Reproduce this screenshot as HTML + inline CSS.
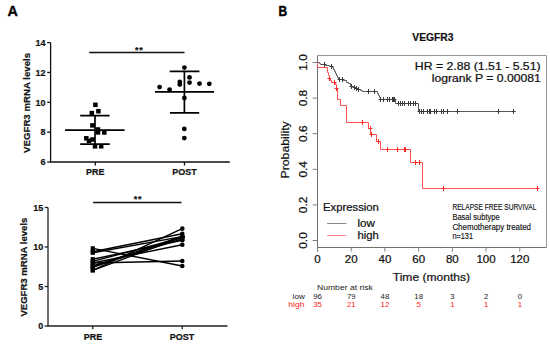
<!DOCTYPE html>
<html><head><meta charset="utf-8"><style>
html,body{margin:0;padding:0;background:#fff;width:550px;height:344px;overflow:hidden;}
</style></head><body>
<svg width="550" height="344" viewBox="0 0 550 344" style="display:block">
<rect width="550" height="344" fill="#fff"/>
<text transform="translate(7.6 15.9) scale(0.93 1)" font-family="Liberation Sans, sans-serif" font-weight="bold" font-size="15.5" fill="#000" stroke="#000" stroke-width="0.3">A</text>
<text transform="translate(278.6 16.3) scale(0.77 1)" font-family="Liberation Sans, sans-serif" font-weight="bold" font-size="15.5" fill="#000" stroke="#000" stroke-width="0.5">B</text>
<g stroke="#111" stroke-width="1.3" fill="none">
<path d="M50.6 42.6 V162.6 M50 162 H229.8"/>
<path d="M47.2 42.60 H50.6"/>
<path d="M47.2 72.45 H50.6"/>
<path d="M47.2 102.30 H50.6"/>
<path d="M47.2 132.15 H50.6"/>
<path d="M47.2 162.00 H50.6"/>
<path d="M95.3 162 V165.6 M184.5 162 V165.6"/>
</g>
<text x="45.4" y="45.80" font-family="Liberation Sans, sans-serif" font-weight="bold" font-size="9" text-anchor="end" fill="#111" stroke="#111" stroke-width="0.2">14</text>
<text x="45.4" y="75.65" font-family="Liberation Sans, sans-serif" font-weight="bold" font-size="9" text-anchor="end" fill="#111" stroke="#111" stroke-width="0.2">12</text>
<text x="45.4" y="105.50" font-family="Liberation Sans, sans-serif" font-weight="bold" font-size="9" text-anchor="end" fill="#111" stroke="#111" stroke-width="0.2">10</text>
<text x="45.4" y="135.35" font-family="Liberation Sans, sans-serif" font-weight="bold" font-size="9" text-anchor="end" fill="#111" stroke="#111" stroke-width="0.2">8</text>
<text x="45.4" y="165.20" font-family="Liberation Sans, sans-serif" font-weight="bold" font-size="9" text-anchor="end" fill="#111" stroke="#111" stroke-width="0.2">6</text>
<text x="95.3" y="175.4" font-family="Liberation Sans, sans-serif" font-weight="bold" font-size="9" text-anchor="middle" fill="#111" stroke="#111" stroke-width="0.2">PRE</text>
<text x="184.4" y="175.4" font-family="Liberation Sans, sans-serif" font-weight="bold" font-size="9" text-anchor="middle" fill="#111" stroke="#111" stroke-width="0.2">POST</text>
<text transform="translate(30.3 102.9) rotate(-90)" font-family="Liberation Sans, sans-serif" font-weight="bold" font-size="9.7" text-anchor="middle" textLength="100" lengthAdjust="spacingAndGlyphs" fill="#111" stroke="#111" stroke-width="0.2">VEGFR3 mRNA levels</text>
<path d="M89.2 52.5 H184.5" stroke="#111" stroke-width="1.6"/>
<text x="139.2" y="53.0" font-family="Liberation Sans, sans-serif" font-weight="bold" font-size="9" text-anchor="middle" letter-spacing="0.6" fill="#111" stroke="#111" stroke-width="0.2">**</text>
<g stroke="#000" stroke-width="1.7" fill="none">
<path d="M65 130.2 H124.6 M80.2 115.6 H109.6 M80.2 144.2 H109.8 M95 115.6 V144.2"/>
<path d="M155 91.8 H214.1 M169.7 71.4 H199.4 M169.9 112.8 H199.2 M184.4 71.4 V112.8"/>
</g>
<rect x="93.15" y="102.55" width="4.5" height="4.5" fill="#000"/>
<rect x="96.15" y="108.95" width="4.5" height="4.5" fill="#000"/>
<rect x="89.55" y="110.85" width="4.5" height="4.5" fill="#000"/>
<rect x="90.15" y="123.15" width="4.5" height="4.5" fill="#000"/>
<rect x="95.75" y="127.25" width="4.5" height="4.5" fill="#000"/>
<rect x="95.75" y="130.15" width="4.5" height="4.5" fill="#000"/>
<rect x="102.05" y="130.25" width="4.5" height="4.5" fill="#000"/>
<rect x="84.05" y="136.05" width="4.5" height="4.5" fill="#000"/>
<rect x="90.25" y="137.25" width="4.5" height="4.5" fill="#000"/>
<rect x="86.75" y="138.55" width="4.5" height="4.5" fill="#000"/>
<rect x="92.75" y="144.05" width="4.5" height="4.5" fill="#000"/>
<rect x="98.95" y="144.05" width="4.5" height="4.5" fill="#000"/>
<circle cx="184.4" cy="67.6" r="2.4" fill="#000"/>
<circle cx="189.5" cy="77.4" r="2.4" fill="#000"/>
<circle cx="189.5" cy="82.6" r="2.4" fill="#000"/>
<circle cx="179.8" cy="82" r="2.4" fill="#000"/>
<circle cx="179.8" cy="84.6" r="2.4" fill="#000"/>
<circle cx="199.5" cy="83.6" r="2.4" fill="#000"/>
<circle cx="209.3" cy="83.8" r="2.4" fill="#000"/>
<circle cx="159.6" cy="87.1" r="2.4" fill="#000"/>
<circle cx="169.6" cy="89.6" r="2.4" fill="#000"/>
<circle cx="184.4" cy="98" r="2.4" fill="#000"/>
<circle cx="184.3" cy="128.9" r="2.4" fill="#000"/>
<circle cx="184.3" cy="138.1" r="2.4" fill="#000"/>
<g stroke="#222" stroke-width="1.3" fill="none">
<path d="M48 207.5 V326.6 M47.4 326 H227.5"/>
<path d="M44.7 207.50 H48"/>
<path d="M44.7 247.00 H48"/>
<path d="M44.7 286.50 H48"/>
<path d="M44.7 326.00 H48"/>
<path d="M92.8 326 V329.2 M182.2 326 V329.2"/>
</g>
<text x="43.3" y="210.70" font-family="Liberation Sans, sans-serif" font-weight="bold" font-size="9" text-anchor="end" fill="#111" stroke="#111" stroke-width="0.2">15</text>
<text x="43.3" y="250.20" font-family="Liberation Sans, sans-serif" font-weight="bold" font-size="9" text-anchor="end" fill="#111" stroke="#111" stroke-width="0.2">10</text>
<text x="43.3" y="289.70" font-family="Liberation Sans, sans-serif" font-weight="bold" font-size="9" text-anchor="end" fill="#111" stroke="#111" stroke-width="0.2">5</text>
<text x="43.3" y="329.20" font-family="Liberation Sans, sans-serif" font-weight="bold" font-size="9" text-anchor="end" fill="#111" stroke="#111" stroke-width="0.2">0</text>
<text x="92.9" y="339.5" font-family="Liberation Sans, sans-serif" font-weight="bold" font-size="9" text-anchor="middle" fill="#111" stroke="#111" stroke-width="0.2">PRE</text>
<text x="181.9" y="339.5" font-family="Liberation Sans, sans-serif" font-weight="bold" font-size="9" text-anchor="middle" fill="#111" stroke="#111" stroke-width="0.2">POST</text>
<text transform="translate(27.3 267.1) rotate(-90)" font-family="Liberation Sans, sans-serif" font-weight="bold" font-size="9.6" text-anchor="middle" textLength="99" lengthAdjust="spacingAndGlyphs" fill="#111" stroke="#111" stroke-width="0.2">VEGFR3 mRNA levels</text>
<path d="M93.1 202.4 H181.5" stroke="#111" stroke-width="1.5"/>
<text x="137.9" y="201.9" font-family="Liberation Sans, sans-serif" font-weight="bold" font-size="9" text-anchor="middle" letter-spacing="0.6" fill="#111" stroke="#111" stroke-width="0.2">**</text>
<g stroke="#000" stroke-width="1.4" fill="none">
<path d="M92.8 248.34 L182.2 265.96"/>
<path d="M92.8 251.74 L182.2 233.81"/>
<path d="M92.8 252.69 L182.2 236.57"/>
<path d="M92.8 259.25 L182.2 240.28"/>
<path d="M92.8 261.38 L182.2 237.60"/>
<path d="M92.8 262.96 L182.2 261.06"/>
<path d="M92.8 262.96 L182.2 244.71"/>
<path d="M92.8 266.04 L182.2 237.20"/>
<path d="M92.8 266.67 L182.2 238.94"/>
<path d="M92.8 267.22 L182.2 236.26"/>
<path d="M92.8 270.31 L182.2 228.67"/>
<path d="M92.8 270.31 L182.2 237.12"/>
</g>
<rect x="90.7" y="246.24" width="4.2" height="4.2" fill="#000"/>
<rect x="90.7" y="249.64" width="4.2" height="4.2" fill="#000"/>
<rect x="90.7" y="250.59" width="4.2" height="4.2" fill="#000"/>
<rect x="90.7" y="257.14" width="4.2" height="4.2" fill="#000"/>
<rect x="90.7" y="259.28" width="4.2" height="4.2" fill="#000"/>
<rect x="90.7" y="260.86" width="4.2" height="4.2" fill="#000"/>
<rect x="90.7" y="260.86" width="4.2" height="4.2" fill="#000"/>
<rect x="90.7" y="263.94" width="4.2" height="4.2" fill="#000"/>
<rect x="90.7" y="264.57" width="4.2" height="4.2" fill="#000"/>
<rect x="90.7" y="265.12" width="4.2" height="4.2" fill="#000"/>
<rect x="90.7" y="268.20" width="4.2" height="4.2" fill="#000"/>
<rect x="90.7" y="268.20" width="4.2" height="4.2" fill="#000"/>
<circle cx="182.3" cy="228.67" r="2.3" fill="#000"/>
<circle cx="182.3" cy="233.81" r="2.3" fill="#000"/>
<circle cx="182.3" cy="236.57" r="2.3" fill="#000"/>
<circle cx="182.3" cy="236.26" r="2.3" fill="#000"/>
<circle cx="182.3" cy="237.60" r="2.3" fill="#000"/>
<circle cx="182.3" cy="237.12" r="2.3" fill="#000"/>
<circle cx="182.3" cy="237.20" r="2.3" fill="#000"/>
<circle cx="182.3" cy="238.94" r="2.3" fill="#000"/>
<circle cx="182.3" cy="240.28" r="2.3" fill="#000"/>
<circle cx="182.3" cy="244.71" r="2.3" fill="#000"/>
<circle cx="182.3" cy="261.06" r="2.3" fill="#000"/>
<circle cx="182.3" cy="265.96" r="2.3" fill="#000"/>
<text x="432.9" y="40.7" font-family="Liberation Sans, sans-serif" font-weight="bold" font-size="10.6" text-anchor="middle" textLength="41.2" lengthAdjust="spacingAndGlyphs" fill="#111" stroke="#111" stroke-width="0.2">VEGFR3</text>
<path d="M317.5 55.5 H546.5 V247.5" fill="none" stroke="#999" stroke-width="1"/>
<path d="M317.5 55.5 V251.5 M317.5 247.5 H546.5" fill="none" stroke="#707070" stroke-width="1"/>
<g stroke="#808080" stroke-width="1" fill="none">
<path d="M312.6 240.50 H317.5"/>
<path d="M312.6 204.90 H317.5"/>
<path d="M312.6 169.30 H317.5"/>
<path d="M312.6 133.70 H317.5"/>
<path d="M312.6 98.10 H317.5"/>
<path d="M312.6 62.50 H317.5"/>
<path d="M317.50 247.5 V251.7"/>
<path d="M351.22 247.5 V251.7"/>
<path d="M384.93 247.5 V251.7"/>
<path d="M418.65 247.5 V251.7"/>
<path d="M452.36 247.5 V251.7"/>
<path d="M486.08 247.5 V251.7"/>
<path d="M519.80 247.5 V251.7"/>
</g>
<text transform="translate(306.5 240.50) rotate(-90)" font-family="Liberation Sans, sans-serif" font-size="10.2" text-anchor="middle" textLength="16.5" lengthAdjust="spacingAndGlyphs" fill="#111" stroke="#111" stroke-width="0.22">0.0</text>
<text transform="translate(306.5 204.90) rotate(-90)" font-family="Liberation Sans, sans-serif" font-size="10.2" text-anchor="middle" textLength="16.5" lengthAdjust="spacingAndGlyphs" fill="#111" stroke="#111" stroke-width="0.22">0.2</text>
<text transform="translate(306.5 169.30) rotate(-90)" font-family="Liberation Sans, sans-serif" font-size="10.2" text-anchor="middle" textLength="16.5" lengthAdjust="spacingAndGlyphs" fill="#111" stroke="#111" stroke-width="0.22">0.4</text>
<text transform="translate(306.5 133.70) rotate(-90)" font-family="Liberation Sans, sans-serif" font-size="10.2" text-anchor="middle" textLength="16.5" lengthAdjust="spacingAndGlyphs" fill="#111" stroke="#111" stroke-width="0.22">0.6</text>
<text transform="translate(306.5 98.10) rotate(-90)" font-family="Liberation Sans, sans-serif" font-size="10.2" text-anchor="middle" textLength="16.5" lengthAdjust="spacingAndGlyphs" fill="#111" stroke="#111" stroke-width="0.22">0.8</text>
<text transform="translate(306.5 62.50) rotate(-90)" font-family="Liberation Sans, sans-serif" font-size="10.2" text-anchor="middle" textLength="16.5" lengthAdjust="spacingAndGlyphs" fill="#111" stroke="#111" stroke-width="0.22">1.0</text>
<text x="317.50" y="263" font-family="Liberation Sans, sans-serif" font-size="10" text-anchor="middle" textLength="6.4" lengthAdjust="spacingAndGlyphs" fill="#111" stroke="#111" stroke-width="0.22">0</text>
<text x="351.22" y="263" font-family="Liberation Sans, sans-serif" font-size="10" text-anchor="middle" textLength="12.8" lengthAdjust="spacingAndGlyphs" fill="#111" stroke="#111" stroke-width="0.22">20</text>
<text x="384.93" y="263" font-family="Liberation Sans, sans-serif" font-size="10" text-anchor="middle" textLength="12.8" lengthAdjust="spacingAndGlyphs" fill="#111" stroke="#111" stroke-width="0.22">40</text>
<text x="418.65" y="263" font-family="Liberation Sans, sans-serif" font-size="10" text-anchor="middle" textLength="12.8" lengthAdjust="spacingAndGlyphs" fill="#111" stroke="#111" stroke-width="0.22">60</text>
<text x="452.36" y="263" font-family="Liberation Sans, sans-serif" font-size="10" text-anchor="middle" textLength="12.8" lengthAdjust="spacingAndGlyphs" fill="#111" stroke="#111" stroke-width="0.22">80</text>
<text x="486.08" y="263" font-family="Liberation Sans, sans-serif" font-size="10" text-anchor="middle" textLength="19.2" lengthAdjust="spacingAndGlyphs" fill="#111" stroke="#111" stroke-width="0.22">100</text>
<text x="519.80" y="263" font-family="Liberation Sans, sans-serif" font-size="10" text-anchor="middle" textLength="19.2" lengthAdjust="spacingAndGlyphs" fill="#111" stroke="#111" stroke-width="0.22">120</text>
<text x="431.4" y="280.7" font-family="Liberation Sans, sans-serif" font-size="11.3" text-anchor="middle" textLength="77.3" lengthAdjust="spacingAndGlyphs" fill="#111" stroke="#111" stroke-width="0.22">Time (months)</text>
<text transform="translate(288.8 149.9) rotate(-90)" font-family="Liberation Sans, sans-serif" font-size="10.6" text-anchor="middle" textLength="57.3" lengthAdjust="spacingAndGlyphs" fill="#111" stroke="#111" stroke-width="0.22">Probability</text>
<text x="540.6" y="69.7" font-family="Liberation Sans, sans-serif" font-size="10.3" text-anchor="end" textLength="125.8" lengthAdjust="spacingAndGlyphs" fill="#111" stroke="#111" stroke-width="0.22">HR = 2.88 (1.51 - 5.51)</text>
<text x="540.9" y="82" font-family="Liberation Sans, sans-serif" font-size="10.3" text-anchor="end" textLength="109.2" lengthAdjust="spacingAndGlyphs" fill="#111" stroke="#111" stroke-width="0.22">logrank P = 0.00081</text>
<text x="323.1" y="211.4" font-family="Liberation Sans, sans-serif" font-size="10.4" textLength="55.8" lengthAdjust="spacingAndGlyphs" fill="#111" stroke="#111" stroke-width="0.22">Expression</text>
<path d="M327.1 223.5 H346.4" stroke="#888" stroke-width="1"/>
<path d="M327.1 235.5 H346.4" stroke="#ff8080" stroke-width="1"/>
<text x="357.5" y="227.2" font-family="Liberation Sans, sans-serif" font-size="10.6" textLength="17.4" lengthAdjust="spacingAndGlyphs" fill="#111" stroke="#111" stroke-width="0.22">low</text>
<text x="357.5" y="238.8" font-family="Liberation Sans, sans-serif" font-size="10.6" textLength="21.4" lengthAdjust="spacingAndGlyphs" fill="#111" stroke="#111" stroke-width="0.22">high</text>
<text x="452.4" y="210" font-family="Liberation Sans, sans-serif" font-size="8.3" textLength="84" lengthAdjust="spacingAndGlyphs" fill="#111" stroke="#111" stroke-width="0.15">RELAPSE FREE SURVIVAL</text>
<text x="452.4" y="220" font-family="Liberation Sans, sans-serif" font-size="8.3" textLength="47.2" lengthAdjust="spacingAndGlyphs" fill="#111" stroke="#111" stroke-width="0.15">Basal subtype</text>
<text x="452.4" y="230" font-family="Liberation Sans, sans-serif" font-size="8.3" textLength="78.6" lengthAdjust="spacingAndGlyphs" fill="#111" stroke="#111" stroke-width="0.15">Chemotherapy treated</text>
<text x="452.4" y="239.4" font-family="Liberation Sans, sans-serif" font-size="8.3" textLength="20.6" lengthAdjust="spacingAndGlyphs" fill="#111" stroke="#111" stroke-width="0.15">n=131</text>
<text x="317" y="289.8" font-family="Liberation Sans, sans-serif" font-size="6.8" textLength="55.8" lengthAdjust="spacingAndGlyphs" fill="#222">Number at risk</text>
<text x="292.6" y="298.5" font-family="Liberation Sans, sans-serif" font-size="7.8" textLength="12.2" lengthAdjust="spacingAndGlyphs" fill="#222">low</text>
<text x="288.3" y="307" font-family="Liberation Sans, sans-serif" font-size="7.8" textLength="16.3" lengthAdjust="spacingAndGlyphs" fill="#f22">high</text>
<text x="317.50" y="298.5" font-family="Liberation Sans, sans-serif" font-size="7.8" text-anchor="middle" fill="#222">96</text>
<text x="317.50" y="307" font-family="Liberation Sans, sans-serif" font-size="7.8" text-anchor="middle" fill="#f22">35</text>
<text x="351.22" y="298.5" font-family="Liberation Sans, sans-serif" font-size="7.8" text-anchor="middle" fill="#222">79</text>
<text x="351.22" y="307" font-family="Liberation Sans, sans-serif" font-size="7.8" text-anchor="middle" fill="#f22">21</text>
<text x="384.93" y="298.5" font-family="Liberation Sans, sans-serif" font-size="7.8" text-anchor="middle" fill="#222">48</text>
<text x="384.93" y="307" font-family="Liberation Sans, sans-serif" font-size="7.8" text-anchor="middle" fill="#f22">12</text>
<text x="418.65" y="298.5" font-family="Liberation Sans, sans-serif" font-size="7.8" text-anchor="middle" fill="#222">18</text>
<text x="418.65" y="307" font-family="Liberation Sans, sans-serif" font-size="7.8" text-anchor="middle" fill="#f22">5</text>
<text x="452.36" y="298.5" font-family="Liberation Sans, sans-serif" font-size="7.8" text-anchor="middle" fill="#222">3</text>
<text x="452.36" y="307" font-family="Liberation Sans, sans-serif" font-size="7.8" text-anchor="middle" fill="#f22">1</text>
<text x="486.08" y="298.5" font-family="Liberation Sans, sans-serif" font-size="7.8" text-anchor="middle" fill="#222">2</text>
<text x="486.08" y="307" font-family="Liberation Sans, sans-serif" font-size="7.8" text-anchor="middle" fill="#f22">1</text>
<text x="519.80" y="298.5" font-family="Liberation Sans, sans-serif" font-size="7.8" text-anchor="middle" fill="#222">0</text>
<text x="519.80" y="307" font-family="Liberation Sans, sans-serif" font-size="7.8" text-anchor="middle" fill="#f22">1</text>
<polyline points="317.5,62.5 319.5,62.5 319.5,63.5 320.5,63.5 320.5,64.5 325.5,64.5 325.5,65.5 329.5,65.5 329.5,66.5 332.5,66.5 332.5,67.5 333.5,67.5 333.5,69.5 334.5,69.5 334.5,71.5 335.5,71.5 335.5,73.5 336.5,73.5 336.5,75.5 337.5,75.5 337.5,77.5 338.5,77.5 338.5,79.5 343.5,79.5 343.5,80.5 346.5,80.5 346.5,82.5 348.5,82.5 348.5,83.5 350.5,83.5 350.5,85.5 351.5,85.5 351.5,86.5 353.5,86.5 353.5,87.5 355.5,87.5 355.5,88.5 357.5,88.5 357.5,89.5 360.5,89.5 360.5,90.5 362.5,90.5 362.5,91.5 377.5,91.5 377.5,93.5 378.5,93.5 378.5,95.5 379.5,95.5 379.5,97.5 380.5,97.5 380.5,99.5 395.5,99.5 395.5,103.5 418.5,103.5 418.5,111.5 515.5,111.5" fill="none" stroke="#5a5a5a" stroke-width="1"/>
<polyline points="317.5,62.5 317.5,62.5 317.5,67.5 327.5,67.5 327.5,72.5 328.5,72.5 328.5,75.5 329.5,75.5 329.5,78.5 330.5,78.5 330.5,80.5 331.5,80.5 331.5,82.5 335.5,82.5 335.5,84.5 336.5,84.5 336.5,88.5 337.5,88.5 337.5,94.5 337.5,99.5 340.5,99.5 340.5,105.5 346.5,105.5 346.5,122.5 368.5,122.5 368.5,128.5 370.5,128.5 370.5,134.5 376.5,134.5 376.5,141.5 380.5,141.5 380.5,149.5 410.5,149.5 410.5,162.5 422.5,162.5 422.5,188.5 538.5,188.5" fill="none" stroke="#ff5050" stroke-width="1"/>
<g stroke="#3a3a3a" stroke-width="1">
<path d="M322.5 64.5 H326.5 M324.5 62.0 V67.0"/>
<path d="M329.5 66.5 H333.5 M331.5 64.0 V69.0"/>
<path d="M337.5 79.5 H341.5 M339.5 77.0 V82.0"/>
<path d="M340.5 79.5 H344.5 M342.5 77.0 V82.0"/>
<path d="M349.5 86.5 H353.5 M351.5 84.0 V89.0"/>
<path d="M352.5 87.5 H356.5 M354.5 85.0 V90.0"/>
<path d="M354.5 88.5 H358.5 M356.5 86.0 V91.0"/>
<path d="M356.5 89.5 H360.5 M358.5 87.0 V92.0"/>
<path d="M366.5 91.5 H370.5 M368.5 89.0 V94.0"/>
<path d="M372.5 91.5 H376.5 M374.5 89.0 V94.0"/>
<path d="M378.5 99.5 H382.5 M380.5 97.0 V102.0"/>
<path d="M381.5 99.5 H385.5 M383.5 97.0 V102.0"/>
<path d="M385.5 99.5 H389.5 M387.5 97.0 V102.0"/>
<path d="M387.5 99.5 H391.5 M389.5 97.0 V102.0"/>
<path d="M390.5 99.5 H394.5 M392.5 97.0 V102.0"/>
<path d="M391.5 99.5 H395.5 M393.5 97.0 V102.0"/>
<path d="M392.5 99.5 H396.5 M394.5 97.0 V102.0"/>
<path d="M396.5 103.5 H400.5 M398.5 101.0 V106.0"/>
<path d="M398.5 103.5 H402.5 M400.5 101.0 V106.0"/>
<path d="M400.5 103.5 H404.5 M402.5 101.0 V106.0"/>
<path d="M402.5 103.5 H406.5 M404.5 101.0 V106.0"/>
<path d="M406.5 103.5 H410.5 M408.5 101.0 V106.0"/>
<path d="M408.5 103.5 H412.5 M410.5 101.0 V106.0"/>
<path d="M411.5 103.5 H415.5 M413.5 101.0 V106.0"/>
<path d="M413.5 103.5 H417.5 M415.5 101.0 V106.0"/>
<path d="M417.5 111.5 H421.5 M419.5 109.0 V114.0"/>
<path d="M419.5 111.5 H423.5 M421.5 109.0 V114.0"/>
<path d="M421.5 111.5 H425.5 M423.5 109.0 V114.0"/>
<path d="M425.5 111.5 H429.5 M427.5 109.0 V114.0"/>
<path d="M427.5 111.5 H431.5 M429.5 109.0 V114.0"/>
<path d="M428.5 111.5 H432.5 M430.5 109.0 V114.0"/>
<path d="M432.5 111.5 H436.5 M434.5 109.0 V114.0"/>
<path d="M434.5 111.5 H438.5 M436.5 109.0 V114.0"/>
<path d="M439.5 111.5 H443.5 M441.5 109.0 V114.0"/>
<path d="M441.5 111.5 H445.5 M443.5 109.0 V114.0"/>
<path d="M445.5 111.5 H449.5 M447.5 109.0 V114.0"/>
<path d="M455.5 111.5 H459.5 M457.5 109.0 V114.0"/>
<path d="M496.5 111.5 H500.5 M498.5 109.0 V114.0"/>
<path d="M511.5 111.5 H515.5 M513.5 109.0 V114.0"/>
</g>
<g stroke="#ff2a2a" stroke-width="1">
<path d="M327.5 78.5 H331.5 M329.5 76.0 V81.0"/>
<path d="M332.5 82.5 H336.5 M334.5 80.0 V85.0"/>
<path d="M334.5 88.5 H338.5 M336.5 86.0 V91.0"/>
<path d="M360.5 122.5 H364.5 M362.5 120.0 V125.0"/>
<path d="M368.5 128.5 H372.5 M370.5 126.0 V131.0"/>
<path d="M369.5 134.5 H373.5 M371.5 132.0 V137.0"/>
<path d="M376.5 141.5 H380.5 M378.5 139.0 V144.0"/>
<path d="M385.5 149.5 H389.5 M387.5 147.0 V152.0"/>
<path d="M395.5 149.5 H399.5 M397.5 147.0 V152.0"/>
<path d="M402.5 149.5 H406.5 M404.5 147.0 V152.0"/>
<path d="M403.5 149.5 H407.5 M405.5 147.0 V152.0"/>
<path d="M413.5 162.5 H417.5 M415.5 160.0 V165.0"/>
<path d="M417.5 162.5 H421.5 M419.5 160.0 V165.0"/>
<path d="M441.5 188.5 H445.5 M443.5 186.0 V191.0"/>
<path d="M535.5 188.5 H539.5 M537.5 186.0 V191.0"/>
</g>
</svg>
</body></html>
